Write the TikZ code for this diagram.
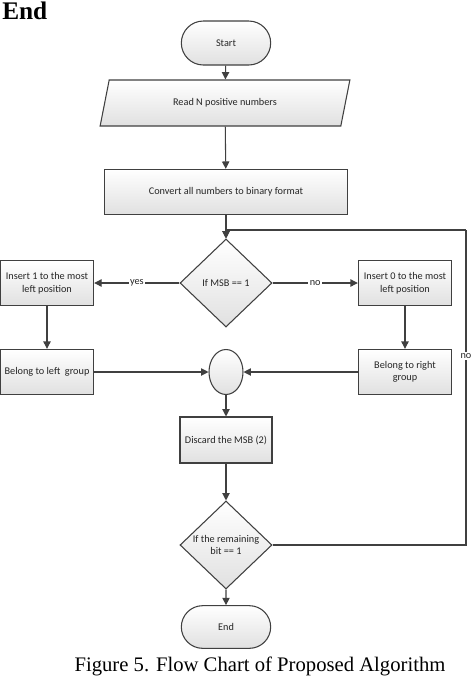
\documentclass[tikz,border=0pt]{standalone}
\usepackage{fontspec}
\setsansfont{Carlito}
\newfontfamily\capfont{Liberation Serif}
\usetikzlibrary{shapes.geometric,shapes.misc,arrows.meta}

\tikzset{
  box/.style={draw=black!75, line width=0.8pt, top color=white, bottom color=black!12,
    text=black!85, font=\sffamily\fontsize{7.7}{9.4}\selectfont, align=center, inner sep=1pt},
  terminal/.style={box, rounded rectangle, minimum width=69pt, minimum height=33pt},
  inout/.style={box, trapezium, trapezium left angle=70, trapezium right angle=110,
    trapezium stretches=true, minimum width=187.5pt, minimum height=34.5pt},
  process/.style={box, rectangle, minimum height=34pt},
  decision/.style={box, diamond, minimum width=69pt, minimum height=66pt, inner sep=0pt},
  joint/.style={box, ellipse, minimum width=25.5pt, minimum height=33.75pt},
  arrow/.style={draw=black!75, line width=0.8pt, -{Triangle[length=5.5pt,width=5.5pt]}},
  line/.style={draw=black!75, line width=0.8pt},
  tag/.style={font=\sffamily\fontsize{7.7}{9.4}\selectfont, text=black!85, fill=white, inner sep=1pt}
}

\begin{document}
\begin{tikzpicture}[x=0.75pt,y=-0.75pt]
  \useasboundingbox (0,0) rectangle (474,679);

  \node[font=\capfont\bfseries\fontsize{19}{22}\selectfont, anchor=base west, inner sep=0pt] (heading) at (2,19) {End};

  \node[terminal] (start) at (226,43) {Start};
  \node[inout] (read) at (225,103) {Read N positive numbers};
  \node[process, minimum width=182pt] (convert) at (226,192) {Convert all numbers to binary format};
  \node[decision] (msb) at (226,283) {If MSB == 1};
  \node[process, minimum width=70pt] (ins1) at (47,283) {Insert 1 to the most\\left position};
  \node[process, minimum width=70pt] (ins0) at (405,283) {Insert 0 to the most\\left position};
  \node[process, minimum width=70pt] (leftg) at (47,372) {Belong to left\ \ group};
  \node[process, minimum width=70pt] (rightg) at (405,372) {Belong to right\\group};
  \node[joint] (join) at (226,372) {};
  \node[process, minimum width=69pt, minimum height=34.5pt] (discard) at (226,440) {Discard the MSB (2)};
  \node[decision] (remain) at (226,545) {If the remaining\\bit == 1};
  \node[terminal, minimum height=32pt] (finish) at (226,627) {End};
  \coordinate (loopc) at (466,230);

  \draw[arrow] (start) -- (read);
  \draw[arrow] (read) -- (convert);
  \draw[arrow] (convert) -- (msb);
  \draw[arrow] (msb) -- node[tag] {yes} (ins1);
  \draw[arrow] (msb) -- node[tag] {no} (ins0);
  \draw[arrow] (ins1) -- (leftg);
  \draw[arrow] (ins0) -- (rightg);
  \draw[arrow] (leftg) -- (join);
  \draw[arrow] (rightg) -- (join);
  \draw[arrow] (join) -- (discard);
  \draw[arrow] (discard) -- (remain);
  \draw[arrow] (remain) -- (finish);
  \draw[line] (remain.east) -| node[tag, pos=0.8] {no} (loopc);
  \draw[arrow] (loopc) -| (msb.north);

  \node[font=\capfont\fontsize{15.5}{18}\selectfont, anchor=base] (caption) at (260,671) {Figure 5. Flow Chart of Proposed Algorithm};
\end{tikzpicture}
\end{document}
